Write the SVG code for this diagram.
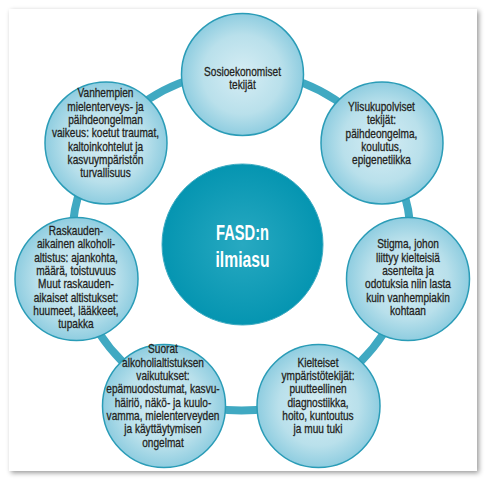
<svg xmlns="http://www.w3.org/2000/svg" width="485" height="480" viewBox="0 0 485 480">
  <defs>
    <filter id="shadow" x="-5%" y="-5%" width="110%" height="110%">
      <feDropShadow dx="2" dy="2" stdDeviation="2.5" flood-color="#000" flood-opacity="0.4"/>
    </filter>
    <radialGradient id="outerFill" cx="50%" cy="50%" r="50%">
      <stop offset="0" stop-color="#d6edf4"/>
      <stop offset="0.65" stop-color="#b9e0eb"/>
      <stop offset="1" stop-color="#8fcde0"/>
    </radialGradient>
    <radialGradient id="centerFill" cx="50%" cy="50%" r="50%">
      <stop offset="0" stop-color="#28a9c1"/>
      <stop offset="1" stop-color="#0595b1"/>
    </radialGradient>
    <style>
      .outer { fill: url(#outerFill); stroke: #2a9cb7; stroke-width: 1.5; }
      .center { fill: url(#centerFill); stroke: #3eabc2; stroke-width: 1; }
      .ring { fill: none; stroke: #40a9c2; stroke-width: 8; }
      .t { font-family: "Liberation Sans", Arial, sans-serif; font-size: 13.2px; fill: #231f20; stroke: #231f20; stroke-width: 0.3; text-anchor: middle; }
      .ct { font-family: "Liberation Sans", Arial, sans-serif; font-size: 22px; font-weight: bold; fill: #ffffff; text-anchor: middle; }
    </style>
  </defs>

  <rect x="0" y="0" width="485" height="480" fill="#ffffff"/>
  <rect x="9" y="9" width="468" height="462" fill="#ffffff" filter="url(#shadow)"/>

  <g id="connectors">
    <circle class="ring" cx="241.5" cy="241" r="169.5"/>
  </g>

  <g id="node-center">
    <circle class="center" cx="242.5" cy="244.5" r="80.5"/>
    <text class="ct" x="242.5" y="240" textLength="53" lengthAdjust="spacingAndGlyphs">FASD:n</text>
    <text class="ct" x="242.5" y="267" textLength="54" lengthAdjust="spacingAndGlyphs">ilmiasu</text>
  </g>

  <g id="node-sosioekonomiset">
    <circle class="outer" cx="242.5" cy="74.5" r="61"/>
    <g transform="translate(242.5 0) scale(0.765 1)">
      <text class="t" x="0" y="76">Sosioekonomiset</text>
      <text class="t" x="0" y="89.3">tekijät</text>
    </g>
  </g>

  <g id="node-ylisukupolviset">
    <circle class="outer" cx="382" cy="143" r="61"/>
    <g transform="translate(381.5 0) scale(0.765 1)">
      <text class="t" x="0" y="111.1">Ylisukupolviset</text>
      <text class="t" x="0" y="124.4">tekijät:</text>
      <text class="t" x="0" y="137.7">päihdeongelma,</text>
      <text class="t" x="0" y="151">koulutus,</text>
      <text class="t" x="0" y="164.3">epigenetiikka</text>
    </g>
  </g>

  <g id="node-stigma">
    <circle class="outer" cx="408" cy="279" r="61.5"/>
    <g transform="translate(408 0) scale(0.765 1)">
      <text class="t" x="0" y="248.3">Stigma, johon</text>
      <text class="t" x="0" y="261.7">liittyy kielteisiä</text>
      <text class="t" x="0" y="275">asenteita ja</text>
      <text class="t" x="0" y="288.3">odotuksia niin lasta</text>
      <text class="t" x="0" y="301.7">kuin vanhempiakin</text>
      <text class="t" x="0" y="315">kohtaan</text>
    </g>
  </g>

  <g id="node-kielteiset">
    <circle class="outer" cx="318.5" cy="406" r="61.5"/>
    <g transform="translate(318 0) scale(0.765 1)">
      <text class="t" x="0" y="366.7">Kielteiset</text>
      <text class="t" x="0" y="380">ympäristötekijät:</text>
      <text class="t" x="0" y="393.3">puutteellinen</text>
      <text class="t" x="0" y="406.7">diagnostiikka,</text>
      <text class="t" x="0" y="420">hoito, kuntoutus</text>
      <text class="t" x="0" y="433.3">ja muu tuki</text>
    </g>
  </g>

  <g id="node-suorat">
    <circle class="outer" cx="164" cy="406" r="61.5"/>
    <g transform="translate(163 0) scale(0.765 1)">
      <text class="t" x="0" y="353.3">Suorat</text>
      <text class="t" x="0" y="366.7">alkoholialtistuksen</text>
      <text class="t" x="0" y="380">vaikutukset:</text>
      <text class="t" x="0" y="393.3">epämuodostumat, kasvu-</text>
      <text class="t" x="0" y="406.7">häiriö, näkö- ja kuulo-</text>
      <text class="t" x="0" y="420">vamma, mielenterveyden</text>
      <text class="t" x="0" y="433.3">ja käyttäytymisen</text>
      <text class="t" x="0" y="446.7">ongelmat</text>
    </g>
  </g>

  <g id="node-raskauden">
    <circle class="outer" cx="76.5" cy="279" r="61.5"/>
    <g transform="translate(76 0) scale(0.765 1)">
      <text class="t" x="0" y="235">Raskauden-</text>
      <text class="t" x="0" y="248.3">aikainen alkoholi-</text>
      <text class="t" x="0" y="261.7">altistus: ajankohta,</text>
      <text class="t" x="0" y="275">määrä, toistuvuus</text>
      <text class="t" x="0" y="288.3">Muut raskauden-</text>
      <text class="t" x="0" y="301.7">aikaiset altistukset:</text>
      <text class="t" x="0" y="315">huumeet, lääkkeet,</text>
      <text class="t" x="0" y="328.3">tupakka</text>
    </g>
  </g>

  <g id="node-vanhempien">
    <circle class="outer" cx="106" cy="143" r="61"/>
    <g transform="translate(105.5 0) scale(0.765 1)">
      <text class="t" x="0" y="97.3">Vanhempien</text>
      <text class="t" x="0" y="110.7">mielenterveys- ja</text>
      <text class="t" x="0" y="124">päihdeongelman</text>
      <text class="t" x="0" y="137.3">vaikeus: koetut traumat,</text>
      <text class="t" x="0" y="150.7">kaltoinkohtelut ja</text>
      <text class="t" x="0" y="164">kasvuympäristön</text>
      <text class="t" x="0" y="177.3">turvallisuus</text>
    </g>
  </g>
</svg>
